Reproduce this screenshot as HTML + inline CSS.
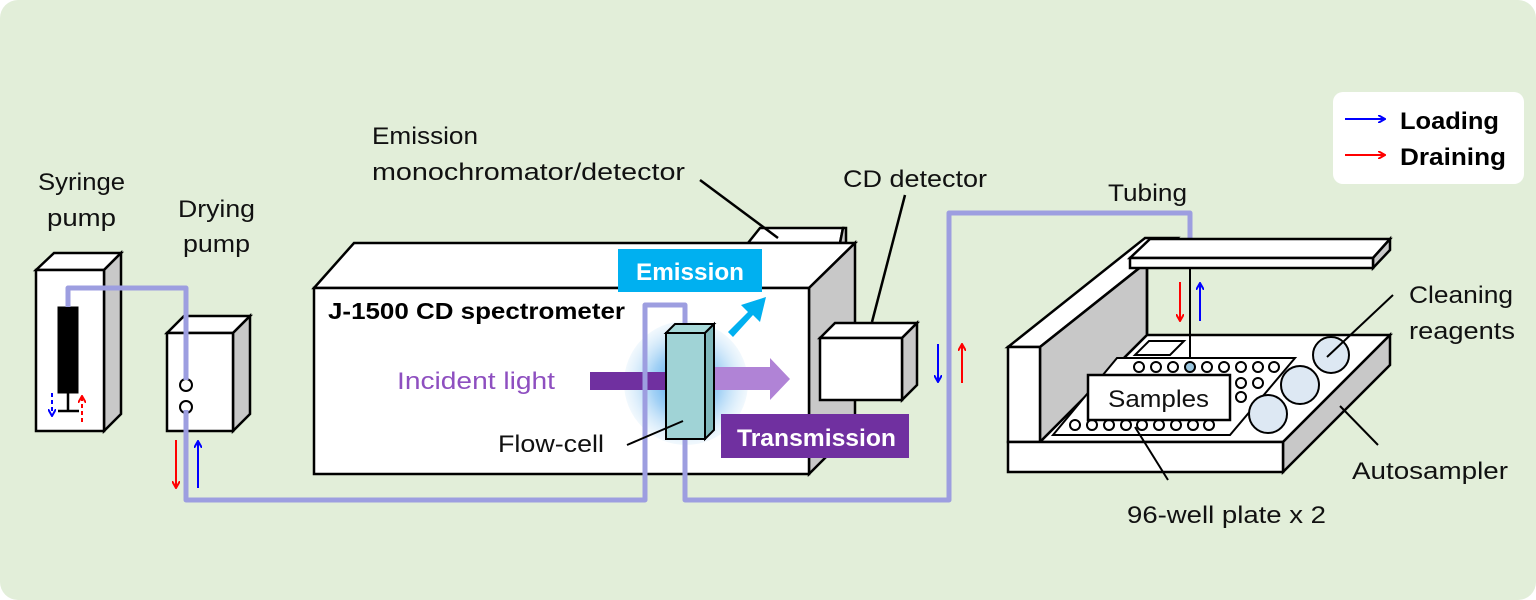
<!DOCTYPE html>
<html><head><meta charset="utf-8"><style>
html,body{margin:0;padding:0;background:#fff;}
svg{display:block;font-family:"Liberation Sans",sans-serif;}
</style></head><body>
<svg width="1536" height="600" viewBox="0 0 1536 600" xmlns="http://www.w3.org/2000/svg">
<defs>
<radialGradient id="glow" cx="50%" cy="50%" r="50%">
<stop offset="0" stop-color="#2f95ec" stop-opacity="1"/>
<stop offset="0.55" stop-color="#8cc6f3" stop-opacity="0.8"/>
<stop offset="1" stop-color="#d8ecfa" stop-opacity="0.35"/>
</radialGradient>
<marker id="ab" markerWidth="8" markerHeight="8" refX="6" refY="4" orient="auto" markerUnits="userSpaceOnUse"><path d="M0,0 L7,4 L0,8" fill="none" stroke="#0000ff" stroke-width="2"/></marker>
<marker id="ar" markerWidth="8" markerHeight="8" refX="6" refY="4" orient="auto" markerUnits="userSpaceOnUse"><path d="M0,0 L7,4 L0,8" fill="none" stroke="#ff0000" stroke-width="2"/></marker>
</defs>
<rect x="0" y="0" width="1536" height="600" rx="18" fill="#e2eed9"/>
<g stroke="#000" stroke-width="2.5" stroke-linejoin="miter">
<polygon points="36,270 54,253 121,253 104,270" fill="#fff"/>
<polygon points="104,270 121,253 121,414 104,431" fill="#c8c8c8"/>
<rect x="36" y="270" width="68" height="161" fill="#fff"/>
<rect x="58" y="307" width="20" height="86" fill="#000" stroke-width="1"/>
<line x1="68" y1="393" x2="68" y2="410"/><line x1="58" y1="411" x2="79" y2="411"/>
<polygon points="167,333 184,316 250,316 233,333" fill="#fff"/>
<polygon points="233,333 250,316 250,414 233,431" fill="#c8c8c8"/>
<rect x="167" y="333" width="66" height="98" fill="#fff"/>
<circle cx="186" cy="385" r="6" fill="#fff" stroke-width="2"/>
<circle cx="186" cy="407" r="6" fill="#fff" stroke-width="2"/>
<polygon points="748,243 760,228 843,228 840,243" fill="#fff"/>
<polygon points="840,243 843,228 846,228 846,243" fill="#c8c8c8"/>
<polygon points="314,288 354,243 855,243 809,288" fill="#fff"/>
<polygon points="809,288 855,243 855,428 809,474" fill="#c8c8c8"/>
<rect x="314" y="288" width="495" height="186" fill="#fff"/>
<line x1="700" y1="180" x2="778" y2="238"/>
<polygon points="820,338 835,323 917,323 902,338" fill="#fff"/>
<polygon points="902,338 917,323 917,385 902,400" fill="#c8c8c8"/>
<rect x="820" y="338" width="82" height="62" fill="#fff"/>
<line x1="872" y1="322" x2="905" y2="195"/>
</g>
<circle cx="686" cy="383" r="62" fill="url(#glow)"/>
<rect x="590" y="372" width="76" height="18" fill="#7030a0"/>
<polygon points="708,367 770,367 770,358 790,379 770,400 770,390 708,390" fill="#b083d6"/>
<polygon points="728,332 748,312 741,305 766,297 760,322 753,315 733,337" fill="#00b0f0"/>
<g fill="none" stroke="#9d9ee0" stroke-width="5" stroke-linejoin="round">
<polyline points="68,307 68,288 186,288 186,380"/>
<polyline points="186,410 186,500 645,500 645,305 685,305 685,332"/>
<polyline points="685,440 685,500 949,500 949,213 1190,213 1190,245"/>
</g>
<g stroke="#000" stroke-width="2">
<polygon points="666,333 675,324 714,324 705,333" fill="#a8dada"/>
<polygon points="705,333 714,324 714,430 705,439" fill="#7fb8bb"/>
<rect x="666" y="333" width="39" height="106" fill="#a0d3d6"/>
</g>
<line x1="627" y1="445" x2="683" y2="421" stroke="#000" stroke-width="2"/>
<rect x="618" y="249" width="144" height="43" fill="#00b0f0"/>
<text x="636" y="280" textLength="108" lengthAdjust="spacingAndGlyphs" font-size="24" font-weight="bold" fill="#fff">Emission</text>
<rect x="721" y="414" width="188" height="44" fill="#7030a0"/>
<text x="737" y="446" textLength="159" lengthAdjust="spacingAndGlyphs" font-size="24" font-weight="bold" fill="#fff">Transmission</text>
<text x="328" y="319" textLength="297" lengthAdjust="spacingAndGlyphs" font-size="23" font-weight="bold" fill="#000">J-1500 CD spectrometer</text>
<text x="397" y="389" textLength="158" lengthAdjust="spacingAndGlyphs" font-size="24" fill="#8e4fc0">Incident light</text>
<text x="498" y="452" textLength="106" lengthAdjust="spacingAndGlyphs" font-size="24" fill="#111">Flow-cell</text>
<g stroke="#000" stroke-width="2.5" stroke-linejoin="miter">
<polygon points="1008,347 1145,238 1177,238 1040,347" fill="#fff"/>
<polygon points="1040,347 1147,262 1147,335 1040,442" fill="#c8c8c8"/>
<rect x="1008" y="347" width="32" height="95" fill="#fff"/>
<polygon points="1040,442 1147,335 1390,335 1283,442" fill="#fff"/>
<polygon points="1283,442 1390,335 1390,365 1283,472" fill="#c8c8c8"/>
<rect x="1008" y="442" width="275" height="30" fill="#fff"/>
<polygon points="1130,258 1150,239 1390,239 1373,258" fill="#fff"/>
<polygon points="1373,258 1390,239 1390,250 1373,268" fill="#c8c8c8"/>
<rect x="1130" y="258" width="243" height="10" fill="#fff"/>
<line x1="1147" y1="268" x2="1147" y2="334"/>
<line x1="1190" y1="268" x2="1190" y2="365" stroke-width="2"/>
<polygon points="1053,435 1117,358 1295,358 1230,435" fill="#fff" stroke-width="2"/>
<polygon points="1135,355 1149,341 1184,341 1170,355" fill="#fff" stroke-width="2"/>
</g>
<g fill="#fff" stroke="#000" stroke-width="2">
<circle cx="1139" cy="367" r="5"/><circle cx="1156" cy="367" r="5"/><circle cx="1173" cy="367" r="5"/><circle cx="1190" cy="367" r="5" fill="#9cc7df"/><circle cx="1207" cy="367" r="5"/><circle cx="1224" cy="367" r="5"/><circle cx="1241" cy="367" r="5"/><circle cx="1258" cy="367" r="5"/><circle cx="1274" cy="367" r="5"/>
<circle cx="1241" cy="383" r="5"/><circle cx="1258" cy="383" r="5"/><circle cx="1241" cy="397" r="5"/>
<circle cx="1075" cy="425" r="5"/><circle cx="1092" cy="425" r="5"/><circle cx="1109" cy="425" r="5"/><circle cx="1126" cy="425" r="5"/><circle cx="1142" cy="425" r="5"/><circle cx="1159" cy="425" r="5"/><circle cx="1176" cy="425" r="5"/><circle cx="1193" cy="425" r="5"/><circle cx="1209" cy="425" r="5"/>
<circle cx="1331" cy="355" r="18" fill="#dde8f3"/><circle cx="1300" cy="385" r="19" fill="#dde8f3"/><circle cx="1268" cy="414" r="19" fill="#dde8f3"/>
</g>
<rect x="1088" y="375" width="142" height="45" fill="#fff" stroke="#000" stroke-width="2.5"/>
<text x="1108" y="407" textLength="101" lengthAdjust="spacingAndGlyphs" font-size="24" fill="#111">Samples</text>
<g stroke="#000" stroke-width="2">
<line x1="1327" y1="357" x2="1393" y2="295"/>
<line x1="1340" y1="406" x2="1378" y2="445"/>
<line x1="1135" y1="427" x2="1168" y2="480"/>
</g>
<g stroke-width="2">
<line x1="52" y1="393" x2="52" y2="415" stroke="#0000ff" stroke-dasharray="4,3" marker-end="url(#ab)"/>
<line x1="82" y1="422" x2="82" y2="397" stroke="#ff0000" stroke-dasharray="4,3" marker-end="url(#ar)"/>
<line x1="176" y1="440" x2="176" y2="487" stroke="#ff0000" marker-end="url(#ar)"/>
<line x1="198" y1="488" x2="198" y2="442" stroke="#0000ff" marker-end="url(#ab)"/>
<line x1="938" y1="344" x2="938" y2="381" stroke="#0000ff" marker-end="url(#ab)"/>
<line x1="962" y1="383" x2="962" y2="345" stroke="#ff0000" marker-end="url(#ar)"/>
<line x1="1180" y1="282" x2="1180" y2="320" stroke="#ff0000" marker-end="url(#ar)"/>
<line x1="1200" y1="321" x2="1200" y2="284" stroke="#0000ff" marker-end="url(#ab)"/>
</g>
<g font-size="24" fill="#111" lengthAdjust="spacingAndGlyphs">
<text x="38" y="190" textLength="87" lengthAdjust="spacingAndGlyphs">Syringe</text>
<text x="47" y="226" textLength="69" lengthAdjust="spacingAndGlyphs">pump</text>
<text x="178" y="217" textLength="77" lengthAdjust="spacingAndGlyphs">Drying</text>
<text x="183" y="252" textLength="67" lengthAdjust="spacingAndGlyphs">pump</text>
<text x="372" y="144" textLength="106" lengthAdjust="spacingAndGlyphs">Emission</text>
<text x="372" y="180" textLength="313" lengthAdjust="spacingAndGlyphs">monochromator/detector</text>
<text x="843" y="187" textLength="144" lengthAdjust="spacingAndGlyphs">CD detector</text>
<text x="1108" y="201" textLength="79" lengthAdjust="spacingAndGlyphs">Tubing</text>
<text x="1409" y="303" textLength="104" lengthAdjust="spacingAndGlyphs">Cleaning</text>
<text x="1409" y="339" textLength="106" lengthAdjust="spacingAndGlyphs">reagents</text>
<text x="1352" y="479" textLength="156" lengthAdjust="spacingAndGlyphs">Autosampler</text>
<text x="1127" y="523" textLength="199" lengthAdjust="spacingAndGlyphs">96-well plate x 2</text>
</g>
<rect x="1333" y="92" width="191" height="92" rx="10" fill="#fff"/>
<line x1="1345" y1="119" x2="1384" y2="119" stroke="#0000ff" stroke-width="2" marker-end="url(#ab)"/>
<line x1="1345" y1="155" x2="1384" y2="155" stroke="#ff0000" stroke-width="2" marker-end="url(#ar)"/>
<text x="1400" y="129" textLength="99" lengthAdjust="spacingAndGlyphs" font-size="24" font-weight="bold" fill="#000">Loading</text>
<text x="1400" y="165" textLength="106" lengthAdjust="spacingAndGlyphs" font-size="24" font-weight="bold" fill="#000">Draining</text>
</svg>
</body></html>
